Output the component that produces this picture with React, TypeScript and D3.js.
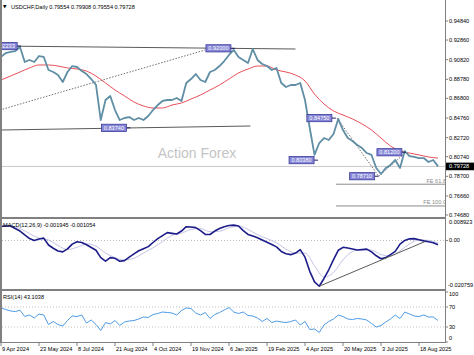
import React from "react";
import * as d3 from "d3";

// closes sampled every 4 trading days, bar 0 = 9 Apr 2024
const closes = [
  0.9110, 0.9151, 0.9162, 0.9172, 0.9214, 0.9058, 0.9079, 0.9058, 0.9120, 0.9110,
  0.8975, 0.8954, 0.8923, 0.8850, 0.8954, 0.9016, 0.9006, 0.8964, 0.8933, 0.8881,
  0.8819, 0.8455, 0.8663, 0.8705, 0.8559, 0.8455, 0.8476, 0.8486, 0.8455, 0.8476,
  0.8455, 0.8497, 0.8559, 0.8611, 0.8653, 0.8663, 0.8663, 0.8684, 0.8653, 0.8840,
  0.8881, 0.8933, 0.8871, 0.8850, 0.8954, 0.8975, 0.9016, 0.9068, 0.9131, 0.9183,
  0.9110, 0.9079, 0.9048, 0.9193, 0.9079, 0.9037, 0.9016, 0.8975, 0.8996, 0.8840,
  0.8798, 0.8819, 0.8819, 0.8840, 0.8663, 0.8372, 0.8092, 0.8216, 0.8268, 0.8247,
  0.8310, 0.8466, 0.8351, 0.8268, 0.8237, 0.8195, 0.8164, 0.8112, 0.8092, 0.7956,
  0.7894, 0.7956, 0.7988, 0.8040, 0.7956, 0.8133, 0.8081, 0.8071, 0.8060, 0.8060,
  0.8019, 0.8040, 0.7973,
];

// moving average, every 8 bars
const movingAvg = [
  0.8871, 0.8912, 0.8954, 0.8996, 0.9027, 0.9027, 0.9016, 0.8996, 0.8985, 0.8964,
  0.8912, 0.8840, 0.8767, 0.8705, 0.8642, 0.8601, 0.8580, 0.8580, 0.8611, 0.8632,
  0.8673, 0.8715, 0.8767, 0.8819, 0.8881, 0.8944, 0.8985, 0.9016, 0.9016, 0.8975,
  0.8954, 0.8923, 0.8861, 0.8725, 0.8622, 0.8549, 0.8507, 0.8466, 0.8414, 0.8351,
  0.8268, 0.8185, 0.8133, 0.8112, 0.8092, 0.8071, 0.8060,
];

// MACD main, every 4 bars
const macdMain = [
  0.0062, 0.0063, 0.0063, 0.0052, 0.0041, 0.0024, 0.0008, 0.0000, 0.0006, 0.0010,
  -0.0020, -0.0034, -0.0046, -0.0050, -0.0037, -0.0016, -0.0006, -0.0009, -0.0019, -0.0031,
  -0.0043, -0.0075, -0.0090, -0.0075, -0.0078, -0.0091, -0.0088, -0.0073, -0.0059, -0.0045,
  -0.0036, -0.0027, -0.0009, 0.0008, 0.0021, 0.0034, 0.0031, 0.0028, 0.0041, 0.0060,
  0.0059, 0.0056, 0.0043, 0.0026, 0.0026, 0.0041, 0.0052, 0.0060, 0.0065, 0.0067,
  0.0063, 0.0043, 0.0026, 0.0019, 0.0012, 0.0002, -0.0008, -0.0018, -0.0028, -0.0048,
  -0.0058, -0.0062, -0.0055, -0.0040, -0.0073, -0.0135, -0.0181, -0.0200, -0.0166, -0.0128,
  -0.0084, -0.0043, -0.0030, -0.0033, -0.0037, -0.0042, -0.0040, -0.0038, -0.0050, -0.0067,
  -0.0080, -0.0075, -0.0062, -0.0048, -0.0016, 0.0000, 0.0007, 0.0008, 0.0003, -0.0002,
  -0.0006, -0.0010, -0.0019,
];

// MACD signal, every 8 bars
const macdSignal = [
  0.0060, 0.0062, 0.0052, 0.0030, 0.0010, 0.0002, -0.0022, -0.0040, -0.0030, -0.0015,
  -0.0025, -0.0055, -0.0075, -0.0085, -0.0078, -0.0055, -0.0032, -0.0005, 0.0022, 0.0032,
  0.0048, 0.0052, 0.0038, 0.0040, 0.0055, 0.0063, 0.0048, 0.0025, 0.0008, -0.0010,
  -0.0038, -0.0055, -0.0055, -0.0110, -0.0160, -0.0140, -0.0085, -0.0048, -0.0040, -0.0042,
  -0.0062, -0.0068, -0.0045, -0.0015, 0.0002, 0.0000, -0.0011,
];

// RSI(14), every 4 bars
const rsiValues = [
  68, 65, 62, 61, 63.5, 51, 54, 48, 56, 54,
  35, 41, 35, 32, 43, 52, 51, 54, 38, 44,
  35, 23, 39, 36, 43, 33, 40, 42, 43, 46,
  50, 49, 55, 57, 60, 59, 58, 54, 63, 68,
  67, 58, 54, 59, 47, 55, 59, 64, 69, 60,
  57, 60, 53, 52, 48, 41, 47, 39, 42, 40,
  39, 41, 44, 34, 41, 25, 26, 19, 34, 41,
  46, 54, 51, 46, 45, 47, 46, 44, 37, 30,
  33, 40, 46, 54, 47, 60, 56, 52, 51, 54,
  50, 50, 43,
];

const dateLabels = [
  "9 Apr 2024", "23 May 2024", "8 Jul 2024", "21 Aug 2024", "4 Oct 2024", "19 Nov 2024",
  "6 Jan 2025", "19 Feb 2025", "4 Apr 2025", "20 May 2025", "3 Jul 2025", "18 Aug 2025",
];
const priceTicks = [0.9484, 0.9286, 0.9082, 0.8878, 0.868, 0.8476, 0.8272, 0.8074, 0.787, 0.7666, 0.7468];
const rsiTicks = [100, 70, 30, 0];

const lastPrice = 0.79728;
const macdMax = 0.008923;
const macdMin = -0.020759;

// swing labels: [text, bar, price]
const swingLabels: [string, number, number][] = [
  ["0.92233", 17, 0.92233],
  ["0.92000", 197, 0.92],
  ["0.83740", 109, 0.8374],
  ["0.84750", 282, 0.8475],
  ["0.80380", 267, 0.8038],
  ["0.78710", 318, 0.7871],
  ["0.81200", 341, 0.812],
];

// drawn lines: [bar1, price1, bar2, price2, dashed]
const drawnLines: [number, number, number, number, boolean][] = [
  [-1, 0.9224, 248, 0.9193, false],
  [-1, 0.8351, 210, 0.8393, false],
  [-1, 0.8559, 172, 0.9183, true],
  [283, 0.8475, 318, 0.7871, true],
  [318, 0.7871, 341, 0.812, true],
];

const feLevels: [string, number][] = [
  ["FE 61.8", 0.7788],
  ["FE 100.0", 0.7562],
];
const feStartBar = 282;

const macdTrend: [number, number, number, number] = [268, -0.02, 357, -0.0005];

const FONT = "'Liberation Sans', Arial, sans-serif";
const FS = 5.6;

export default function App() {
  const x = d3.scaleLinear().domain([0, 352]).range([1, 419]);
  const yP = d3.scaleLinear().domain([0.7468, 0.9484]).range([215, 21]);
  const yM = d3.scaleLinear().domain([macdMin, macdMax]).range([288, 220]);
  const yR = d3.scaleLinear().domain([0, 100]).range([342, 292]);

  const right = 445;

  const mk = (ys: d3.ScaleLinear<number, number>, step: number, curve = d3.curveLinear) =>
    d3.line<number>().x((_, i) => x(i * step)).y((d) => ys(d)).curve(curve);

  const priceLine = mk(yP, 4)(closes) || "";
  const maLine = mk(yP, 8, d3.curveMonotoneX)(movingAvg) || "";
  const macdLine = mk(yM, 4)(macdMain) || "";
  const sigLine = mk(yM, 8, d3.curveMonotoneX)(macdSignal) || "";
  const rsiLine = mk(yR, 4)(rsiValues) || "";

  return (
    <div style={{ position: "fixed", left: 0, top: 0 }}>
      <svg width={474} height={355} style={{ display: "block", background: "#fff" }} fontFamily={FONT}>
        <defs>
          <clipPath id="cMain"><rect x={2} y={0} width={right - 2} height={217} /></clipPath>
          <clipPath id="cMacd"><rect x={2} y={219} width={right - 2} height={70} /></clipPath>
          <clipPath id="cRsi"><rect x={2} y={291} width={right - 2} height={51} /></clipPath>
        </defs>

        {/* main panel */}
        <g clipPath="url(#cMain)">
          <text x={197} y={158} fontSize={14} fill="#c4c4c4" textAnchor="middle">Action Forex</text>
          <line x1={2} x2={right} y1={yP(lastPrice)} y2={yP(lastPrice)} stroke="#c8c8c8" strokeWidth={1} />
          {feLevels.map(([t, p]) => (
            <g key={t}>
              <line x1={x(feStartBar)} x2={right} y1={yP(p)} y2={yP(p)} stroke="#8c8c8c" strokeWidth={1} />
              <text x={right + 1} y={yP(p) - 1.5} fontSize={FS} fill="#8c8c8c" textAnchor="end">{t}</text>
            </g>
          ))}
          {drawnLines.map(([b1, p1, b2, p2, dash], i) => (
            <line key={i} x1={x(b1)} y1={yP(p1)} x2={x(b2)} y2={yP(p2)}
              stroke={dash ? "#707070" : "#5a5a5a"} strokeWidth={1}
              strokeDasharray={dash ? "1.5,1.5" : undefined} />
          ))}
          <path d={maLine} fill="none" stroke="#e8505a" strokeWidth={1} />
          <path d={priceLine} fill="none" stroke="#5f8ea5" strokeWidth={1.8} strokeLinejoin="round" />
          {swingLabels.map(([t, b, p]) => {
            const bx = x(b) - 4;
            const cy = yP(p);
            return (
              <g key={t}>
                <line x1={bx} x2={x(b)} y1={cy} y2={cy} stroke="#202060" strokeWidth={1} />
                <rect x={bx - 25} y={cy - 3.6} width={25} height={7.2} fill="#8686d6" stroke="#3a3a9c" strokeWidth={0.8} />
                <text x={bx - 12.5} y={cy + 2} fontSize={FS} fill="#fff" textAnchor="middle">{t}</text>
              </g>
            );
          })}
        </g>
        <text x={3} y={8} fontSize={4.5} fill="#000" fontFamily="'DejaVu Sans'">▼</text>
        <text x={11} y={8.5} fontSize={FS} fill="#000">USDCHF,Daily  0.79554 0.79908 0.79554 0.79728</text>

        {/* MACD panel */}
        <g clipPath="url(#cMacd)">
          <line x1={2} x2={right} y1={yM(0)} y2={yM(0)} stroke="#b8b8b8" strokeDasharray="1,2" />
          <path d={sigLine} fill="none" stroke="#c4c4e4" strokeWidth={1} />
          <path d={macdLine} fill="none" stroke="#1c1c8a" strokeWidth={1.6} strokeLinejoin="round" />
          <line x1={x(macdTrend[0])} y1={yM(macdTrend[1])} x2={x(macdTrend[2])} y2={yM(macdTrend[3])}
            stroke="#5a5a5a" strokeWidth={1} />
        </g>
        <text x={3} y={226.5} fontSize={FS} fill="#000">MACD(12,26,9) -0.001945 -0.001054</text>

        {/* RSI panel */}
        <g clipPath="url(#cRsi)">
          {[70, 30].map((v) => (
            <line key={v} x1={2} x2={right} y1={yR(v)} y2={yR(v)} stroke="#c0c0c0" strokeDasharray="1,2" />
          ))}
          <path d={rsiLine} fill="none" stroke="#4d9be6" strokeWidth={1} strokeLinejoin="round" />
        </g>
        <text x={3} y={298.5} fontSize={FS} fill="#000">RSI(14) 43.1038</text>

        {/* frames */}
        <line x1={1} x2={1} y1={0} y2={342} stroke="#808080" strokeWidth={2} />
        <line x1={right + 0.5} x2={right + 0.5} y1={0} y2={342} stroke="#808080" strokeWidth={1} />
        <line x1={0} x2={right} y1={218} y2={218} stroke="#808080" strokeWidth={2} />
        <line x1={0} x2={right} y1={290} y2={290} stroke="#808080" strokeWidth={2} />
        <line x1={0} x2={right + 1} y1={342.5} y2={342.5} stroke="#808080" strokeWidth={1.2} />

        {/* right axis: price */}
        {priceTicks.map((t) => (
          <g key={t}>
            <line x1={right} x2={right + 3} y1={yP(t)} y2={yP(t)} stroke="#808080" />
            <text x={449} y={yP(t) + 2} fontSize={FS} fill="#000">{t.toFixed(5)}</text>
          </g>
        ))}
        <rect x={446} y={yP(lastPrice) - 3.8} width={28} height={7.6} fill="#000" />
        <text x={449} y={yP(lastPrice) + 2} fontSize={FS} fill="#fff">{lastPrice.toFixed(5)}</text>

        {/* right axis: macd */}
        <text x={449} y={yM(macdMax) + 4} fontSize={FS} fill="#000">{macdMax.toFixed(6)}</text>
        <line x1={right} x2={right + 3} y1={yM(0)} y2={yM(0)} stroke="#808080" />
        <text x={449} y={yM(0) + 2} fontSize={FS} fill="#000">0.00</text>
        <text x={448} y={yM(macdMin) - 1} fontSize={FS} fill="#000">{macdMin.toFixed(6)}</text>

        {/* right axis: rsi */}
        {rsiTicks.map((t) => {
          const yy = t === 100 ? yR(t) + 4 : t === 0 ? yR(t) - 2 : yR(t) + 2;
          return (
            <g key={t}>
              <line x1={right} x2={right + 3} y1={yR(t)} y2={yR(t)} stroke="#808080" />
              <text x={449} y={yy} fontSize={FS} fill="#000">{t}</text>
            </g>
          );
        })}

        {/* bottom axis */}
        {dateLabels.map((d, i) => (
          <g key={d}>
            <line x1={x(i * 32)} x2={x(i * 32)} y1={342} y2={346} stroke="#808080" />
            <text x={x(i * 32) + 1} y={350.5} fontSize={FS} fill="#000">{d}</text>
          </g>
        ))}
      </svg>
    </div>
  );
}
